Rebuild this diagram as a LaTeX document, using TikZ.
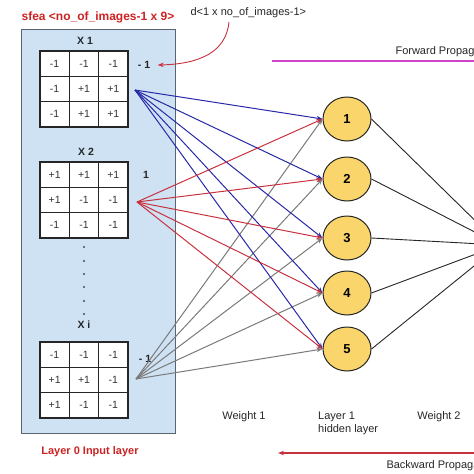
\documentclass[tikz,border=0pt]{standalone}
\usepackage{fontspec}
\setmainfont{Liberation Sans}
\usetikzlibrary{arrows.meta,shapes.geometric}
\definecolor{panelblue}{HTML}{CFE2F3}
\definecolor{panelline}{HTML}{5A6470}
\definecolor{nodeyel}{HTML}{F9D56B}
\definecolor{lblue}{HTML}{2828A8}
\definecolor{lred}{HTML}{C8323F}
\definecolor{lgray}{HTML}{7A7A7A}
\definecolor{tred}{HTML}{CC2222}
\definecolor{fwdcol}{HTML}{CC44CC}
\begin{document}
\begin{tikzpicture}[x=1pt,y=-1pt,
  panel/.style={draw=panelline,line width=1pt,fill=panelblue,minimum width=154pt,minimum height=404pt,inner sep=0pt},
  cell/.style={draw=black!85,line width=1.3pt,fill=white,minimum width=29.33pt,minimum height=25.33pt,inner sep=0pt,font=\fontsize{10.5}{12}\selectfont,text=black!80},
  glabel/.style={font=\bfseries\fontsize{10.5}{12}\selectfont,text=black!85},
  hid/.style={ellipse,draw=black!85,line width=1pt,fill=nodeyel,minimum width=48pt,minimum height=44pt,inner sep=0pt,font=\bfseries\fontsize{13}{14}\selectfont},
  plain/.style={font=\fontsize{11}{13}\selectfont,text=black!85},
  redtitle/.style={font=\bfseries\fontsize{12}{14}\selectfont,text=tred},
  tip/.style={-{Stealth[length=6pt,width=4.5pt]}},
  bluearrow/.style={tip,draw=lblue,line width=1pt},
  redarrow/.style={tip,draw=lred,line width=1pt},
  grayarrow/.style={tip,draw=lgray,line width=1pt},
  outline/.style={draw=black!85,line width=0.9pt},
  dotmark/.style={circle,fill=black!70,inner sep=0pt,minimum size=2.4pt}
]
\useasboundingbox (0,0) rectangle (474,474);
\clip (0,0) rectangle (474,474);

\node[panel] (panel) at (98.5,231) {};

% grids
\foreach \v [count=\i from 0] in {-1,-1,-1,-1,+1,+1,-1,+1,+1} {
  \pgfmathtruncatemacro\r{div(\i,3)}
  \pgfmathtruncatemacro\c{mod(\i,3)}
  \node[cell] (a\r\c) at ({40+29.33*(\c+0.5)},{51+25.33*(\r+0.5)}) {\v};
}
\foreach \v [count=\i from 0] in {+1,+1,+1,+1,-1,-1,-1,-1,-1} {
  \pgfmathtruncatemacro\r{div(\i,3)}
  \pgfmathtruncatemacro\c{mod(\i,3)}
  \node[cell] (b\r\c) at ({40+29.33*(\c+0.5)},{162+25.33*(\r+0.5)}) {\v};
}
\foreach \v [count=\i from 0] in {-1,-1,-1,+1,+1,-1,+1,-1,-1} {
  \pgfmathtruncatemacro\r{div(\i,3)}
  \pgfmathtruncatemacro\c{mod(\i,3)}
  \node[cell] (c\r\c) at ({40+29.33*(\c+0.5)},{342+25.33*(\r+0.5)}) {\v};
}

\node[glabel] (x1) at (85,41) {X 1};
\node[glabel] (x2) at (86,152) {X 2};
\node[glabel] (xi) at (84,325) {X i};
\foreach \y [count=\k] in {247,261,274,287,301,314} {
  \node[dotmark] (dot\k) at (84,\y) {};
}

\node[glabel] (m1) at (144,65) {- 1};
\node[glabel] (m2) at (146,175) {1};
\node[glabel] (m3) at (145,359) {- 1};

\coordinate (s1) at (135,90);
\coordinate (s2) at (137,202);
\coordinate (s3) at (136,379);

% hidden nodes
\foreach \y [count=\k] in {119,179,238,293,349} {
  \node[hid] (h\k) at (347,\y) {\k};
}

\coordinate (out) at (500,245);

\foreach \k in {1,...,5} { \draw[grayarrow] (s3) -- (h\k.west); }
\foreach \k in {1,...,5} { \draw[bluearrow] (s1) -- (h\k.west); }
\foreach \k in {1,...,5} { \draw[redarrow] (s2) -- (h\k.west); }
\foreach \k in {1,...,5} { \draw[outline] (h\k.east) -- (out); }

% titles
\node[redtitle] (title) at (98,17) {sfea <no\_of\_images-1 x 9>};
\node[plain,anchor=west] (dlab) at (187,13) {d<1 x no\_of\_images-1>};
\coordinate (dstart) at (229,22);
\draw[tip,draw=lred,line width=0.9pt] (dstart) .. controls (226,52) and (200,64) .. ([xshift=4pt]m1.east);

% forward / backward
\coordinate (fstart) at (272,61);
\coordinate (fend) at (480,61);
\draw[draw=fwdcol,line width=1.5pt] (fstart) -- (fend);
\node[plain,anchor=west] (flab) at (392,52) {Forward Propagation};

\coordinate (bstart) at (480,453);
\coordinate (bend) at (278,453);
\draw[tip,draw=lred,line width=1.2pt] (bstart) -- (bend);
\node[plain,anchor=west] (blab) at (383,466) {Backward Propagation};

% bottom labels
\node[redtitle,font=\bfseries\fontsize{11}{13}\selectfont] (l0) at (90,452) {Layer 0 Input layer};
\node[plain] (w1) at (244,417) {Weight 1};
\node[plain,anchor=north west,align=left,inner sep=0pt] (l1) at (318,412) {Layer 1\\hidden layer};
\node[plain] (w2) at (439,417) {Weight 2};
\end{tikzpicture}
\end{document}
